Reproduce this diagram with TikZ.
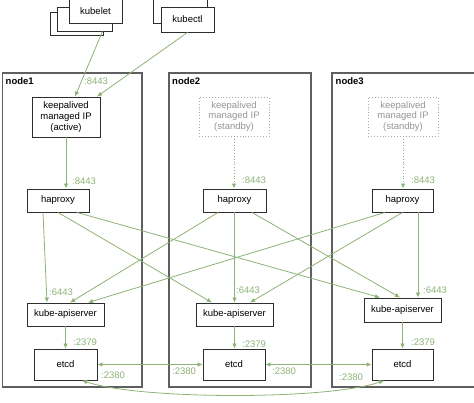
\documentclass[tikz,border=0pt]{standalone}
\usepackage{fontspec}
\setmainfont{Liberation Sans}
\usepackage{tikz}
\usetikzlibrary{arrows.meta}
\usetikzlibrary{calc}
\definecolor{portGreen}{RGB}{141,178,118}
\definecolor{frameGray}{RGB}{95,95,95}
\definecolor{boxGray}{RGB}{45,45,45}
\definecolor{standbyGray}{RGB}{170,170,170}
\definecolor{standbyText}{RGB}{150,150,150}
\tikzstyle{pixel} = [x = 1pt, y = -1pt]
\tikzstyle{link} = [draw = portGreen, line width = 0.8pt, -{Latex[length = 5pt, width = 4.5pt]}]
\tikzstyle{link<->} = [draw = portGreen, line width = 0.8pt, {Latex[length = 5pt, width = 4.5pt]}-{Latex[length = 5pt, width = 4.5pt]}]

\begin{document}
\begin{tikzpicture}[pixel, font = \fontsize{9.5}{10.7}\selectfont]
		% Границы рисунка
		\useasboundingbox (0, 0) rectangle (474, 402);
		% Стили
		\tikzstyle{frame} = [draw = frameGray, line width = 1.2pt]
		\tikzstyle{box} = [draw = boxGray, line width = 0.9pt, fill = white, inner sep = 0pt, align = center]
		\tikzstyle{standby} = [draw = standbyGray, line width = 0.9pt, dotted, fill = white, text = standbyText, inner sep = 0pt, align = center]
		\tikzstyle{host} = [anchor = west, inner sep = 0pt, font = \fontsize{9.5}{10.7}\selectfont\bfseries]
		\tikzstyle{port} = [anchor = west, inner sep = 0pt, text = portGreen]
		% Узлы кластера
		\draw[frame] (2.5, 73) rectangle (142, 387);
		\draw[frame] (169, 73) rectangle (311, 387);
		\draw[frame] (332, 73) rectangle (480, 387);
		\node[host] (host1) at (5.5, 81) {node1};
		\node[host] (host2) at (172, 81) {node2};
		\node[host] (host3) at (335.5, 81) {node3};
		% Клиенты
		\node[box, minimum width = 53pt, minimum height = 23pt] (kubeletc) at (76.5, 23.5) {};
		\node[box, minimum width = 55pt, minimum height = 24pt] (kubeletb) at (84.5, 19) {};
		\node[box, minimum width = 53pt, minimum height = 24pt] (kubelet) at (95.5, 11) {kubelet};
		\node[box, minimum width = 54pt, minimum height = 25pt] (kubectlb) at (180, 10.5) {};
		\node[box, minimum width = 53pt, minimum height = 25pt] (kubectl) at (187.5, 19.5) {kubectl};
		% keepalived
		\node[box, minimum width = 68pt, minimum height = 40pt] (keep1) at (66, 117) {keepalived\\managed IP\\(active)};
		\node[standby, minimum width = 70pt, minimum height = 39pt] (keep2) at (234, 116.5) {keepalived\\managed IP\\(standby)};
		\node[standby, minimum width = 70pt, minimum height = 39pt] (keep3) at (403, 116.5) {keepalived\\managed IP\\(standby)};
		% haproxy
		\node[box, minimum width = 62pt, minimum height = 23pt] (hap1) at (58, 200.5) {haproxy};
		\node[box, minimum width = 63pt, minimum height = 23pt] (hap2) at (234.5, 200.5) {haproxy};
		\node[box, minimum width = 61pt, minimum height = 23pt] (hap3) at (402.5, 200.5) {haproxy};
		% kube-apiserver
		\node[box, minimum width = 77pt, minimum height = 23pt] (api1) at (65.5, 314.5) {kube-apiserver};
		\node[box, minimum width = 77pt, minimum height = 23pt] (api2) at (234.5, 314.5) {kube-apiserver};
		\node[box, minimum width = 77pt, minimum height = 24pt] (api3) at (402.5, 310) {kube-apiserver};
		% etcd
		\node[box, minimum width = 63pt, minimum height = 31pt] (etcd1) at (65.5, 364.5) {etcd};
		\node[box, minimum width = 62pt, minimum height = 31pt] (etcd2) at (234, 364.5) {etcd};
		\node[box, minimum width = 61pt, minimum height = 31pt] (etcd3) at (402.5, 364.5) {etcd};
		% Связи клиентов
		\draw[link] ([xshift = -10pt]kubeletb.south east) -- ([xshift = 9pt]keep1.north);
		\draw[link] (kubectl.south) -- ([xshift = 31pt]keep1.north);
		\draw[link] (keep1.south) -- (keep1.south |- hap1.north);
		\draw[link, dotted] (keep2.south) -- (keep2.south |- hap2.north);
		\draw[link, dotted] (keep3.south) -- (keep3.south |- hap3.north);
		% haproxy -> kube-apiserver
		\draw[link] ([xshift = -15pt]hap1.south) -- ([xshift = -18.5pt]api1.north);
		\draw[link] (hap1.south) -- ([xshift = -22.5pt]api2.north);
		\draw[link] ([xshift = 19pt]hap1.south) -- ([xshift = -22.5pt]api3.north);
		\draw[link] ([xshift = -16.5pt]hap2.south) -- ([xshift = 4.5pt]api1.north);
		\draw[link] (hap2.south) -- (hap2.south |- api2.north);
		\draw[link] ([xshift = 17.5pt]hap2.south) -- ([xshift = -2.5pt]api3.north);
		\draw[link] ([xshift = -17.5pt]hap3.south) -- ([xshift = 22.5pt]api1.north);
		\draw[link] (hap3.south) -- ([xshift = 15.5pt]api2.north);
		\draw[link] ([xshift = 15.5pt]hap3.south) -- ([xshift = 15.5pt]api3.north);
		% kube-apiserver -> etcd
		\draw[link] (api1.south) -- (api1.south |- etcd1.north);
		\draw[link] (api2.south) -- (api2.south |- etcd2.north);
		\draw[link] (api3.south) -- (api3.south |- etcd3.north);
		% etcd <-> etcd
		\draw[link<->] (etcd1.east) -- (etcd2.west);
		\draw[link<->] (etcd2.east) -- (etcd3.west);
		\draw[link<->] ([xshift = 16.5pt]etcd1.south) .. controls (140, 400) and (330, 400) .. ([xshift = -18.5pt]etcd3.south);
		% Порты
		\node[port] (p8443) at (84, 81) {:8443};
		\node[port] (p8443a) at (72, 181) {:8443};
		\node[port] (p8443b) at (242, 180) {:8443};
		\node[port] (p8443c) at (411, 180) {:8443};
		\node[port] (p6443a) at (49, 292) {:6443};
		\node[port] (p6443b) at (236, 290) {:6443};
		\node[port] (p6443c) at (423, 290) {:6443};
		\node[port] (p2379a) at (73, 342) {:2379};
		\node[port] (p2379b) at (242, 344) {:2379};
		\node[port] (p2379c) at (411, 342) {:2379};
		\node[port] (p2380a) at (101, 375) {:2380};
		\node[port] (p2380b) at (172, 371) {:2380};
		\node[port] (p2380c) at (272, 371) {:2380};
		\node[port] (p2380d) at (339, 377) {:2380};
	\end{tikzpicture}
\end{document}
